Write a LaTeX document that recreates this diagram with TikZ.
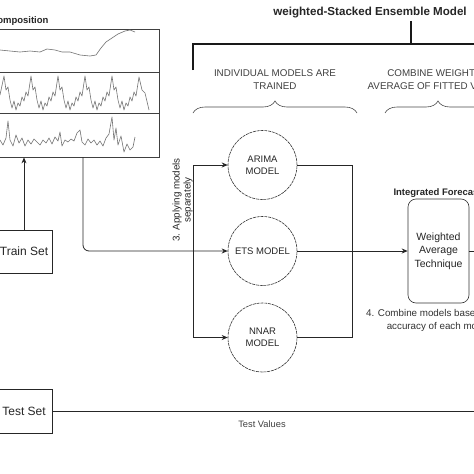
\documentclass[tikz,border=0pt]{standalone}
\usepackage{fontspec}
\setmainfont{Liberation Sans}
\usetikzlibrary{arrows.meta,decorations.pathreplacing}
\begin{document}
\begin{tikzpicture}[x=1pt,y=-1pt,
  every node/.style={text=black!85},
  conn/.style={line width=0.8pt,draw=black!85},
  arr/.style={conn,-{Stealth[length=6pt,width=5pt]}},
  heavy/.style={line width=1.6pt,draw=black!90},
  setbox/.style={draw=black!85,line width=0.8pt,minimum width=56pt,inner sep=0pt,font=\fontsize{12}{14}\selectfont},
  modelc/.style={circle,draw=black!80,dash pattern=on 3pt off 0.8pt,line width=0.6pt,minimum size=69pt,inner sep=0pt,align=center,font=\fontsize{9.5}{12}\selectfont},
  wavy/.style={draw=black!55,line width=0.6pt,line join=round},
  brc/.style={draw=black!70,line width=0.6pt,decorate,decoration={brace,amplitude=12pt}},
  caps/.style={align=center,font=\fontsize{9.8}{13}\selectfont,text=black!75},
  bold/.style={font=\bfseries\fontsize{9.5}{12}\selectfont}
]
\useasboundingbox (0,0) rectangle (474,474);
\fill[white] (0,0) rectangle (474,474);

% decomposition box
\node[draw=black!75,line width=0.8pt,minimum width=164pt,minimum height=128pt,inner sep=0pt] (decomp) at (77,93) {};
\draw[draw=black!75,line width=0.8pt] (-6,72) -- (159,72);
\draw[draw=black!75,line width=0.8pt] (-6,113) -- (159,113);
\node[bold,anchor=base east] (dtitle) at (52,23) {Decomposition};

% trend
\draw[wavy] (0,50) -- (10,51) -- (20,52) -- (30,51) -- (40,52) -- (47,49) -- (55,50) -- (62,52) -- (70,52) -- (80,55) -- (90,56) -- (96,55) -- (101,48) -- (106,42) -- (112,38) -- (118,34) -- (125,31) -- (130,30) -- (135,32);
% seasonal
\draw[wavy] (0,95) \foreach \p in {4,31,58,85,112} { -- (\p,76) -- (\p+2,90) -- (\p+4,87) -- (\p+6,100) -- (\p+8,108) -- (\p+10,101) -- (\p+12,110) -- (\p+14,103) -- (\p+16,106) -- (\p+18,97) -- (\p+20,101) -- (\p+22,92) -- (\p+24,96) } -- (139,77) -- (142,90) -- (145,93) -- (149,110);
% noise
\draw[wavy] (0,140) -- (3,145) -- (6,138) -- (8,121) -- (10,140) -- (13,146) -- (16,135) -- (19,143) -- (22,138) -- (25,146) -- (28,140) -- (31,144) -- (34,139) -- (37,142) -- (40,145) -- (43,140) -- (46,143) -- (49,138) -- (52,144) -- (55,137) -- (58,141) -- (60,132) -- (62,146) -- (65,140) -- (68,142) -- (71,139) -- (74,141) -- (77,133) -- (80,130) -- (82,142) -- (85,145) -- (88,139) -- (91,143) -- (94,140) -- (97,145) -- (100,141) -- (103,146) -- (106,138) -- (109,134) -- (112,117) -- (114,140) -- (116,128) -- (118,145) -- (121,136) -- (124,152) -- (127,144) -- (130,150) -- (133,147) -- (135,137);

% train / test
\node[setbox,minimum height=43pt] (train) at (24,251.5) {Train Set};
\node[setbox,minimum height=44pt] (test) at (24,411) {Test Set};
\draw[arr] (train.north) -- (decomp.south -| train.north);

% models
\node[modelc] (arima) at (262.5,165) {ARIMA\\MODEL};
\node[modelc] (ets) at (262.5,251) {ETS MODEL};
\node[modelc] (nnar) at (262.5,337.5) {NNAR\\MODEL};

\coordinate (dsplit) at (83,157);
\coordinate (jn) at (193,251);
\draw[arr,rounded corners=6pt] (dsplit) |- (ets.west);
\draw[arr] (jn) |- (arima.west);
\draw[arr] (jn) |- (nnar.west);
\node[rotate=90,align=center,font=\fontsize{9.8}{11}\selectfont] (apply) at (182.5,200) {3. Applying models\\separately};

% weighted average
\node[draw=black!80,line width=0.6pt,rounded corners=8pt,minimum width=61pt,minimum height=104pt,inner sep=0pt,align=center,font=\fontsize{10.5}{13.5}\selectfont] (wat) at (438.5,251) {Weighted\\Average\\Technique};
\coordinate (merge) at (352.5,251);
\draw[conn] (arima.east) -| (merge);
\draw[conn] (nnar.east) -| (merge);
\draw[arr] (ets.east) -- (wat.west);
\coordinate (outr) at (480,251);
\draw[conn] (wat.east) -- (outr);
\node[bold,anchor=base west] (integ) at (390,195) {Integrated Forecast};
\node[align=center,font=\fontsize{9.8}{13}\selectfont,text=black!80] (comb) at (438.5,320.5) {4. Combine models based on the\\accuracy of each model};

% test line
\coordinate (testend) at (480,411);
\draw[conn] (test.east) -- (testend);
\node[font=\fontsize{9.3}{11}\selectfont,text=black!75] (tv) at (262,424.5) {Test Values};

% ensemble header
\node[font=\bfseries\fontsize{11.6}{13}\selectfont,anchor=base] (ens) at (370,15) {weighted-Stacked Ensemble Model};
\coordinate (hj) at (411,44);
\draw[heavy] (ens.south -| hj) -- (hj);
\draw[heavy] (193,70) |- (480,44);

\node[caps] (indiv) at (275,79.5) {INDIVIDUAL MODELS ARE\\TRAINED};
\node[caps] (combw) at (438,79.5) {COMBINE WEIGHTED\\AVERAGE OF FITTED VALUES};
\draw[brc] (193,113) -- (357,113);
\draw[brc] (385,113) -- (491,113);
\end{tikzpicture}
\end{document}
